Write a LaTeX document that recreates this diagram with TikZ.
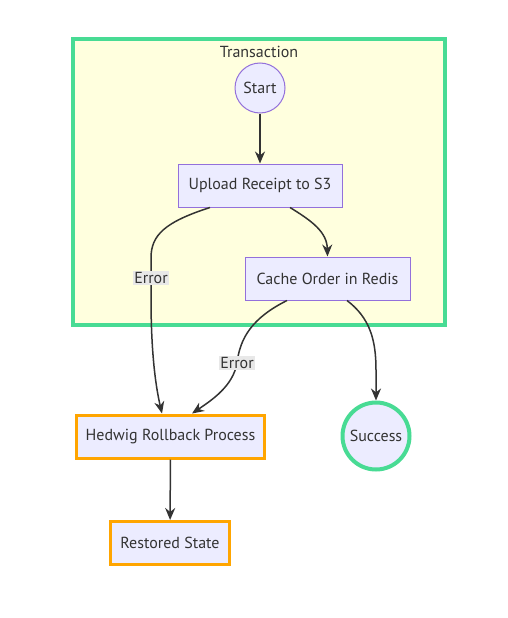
\documentclass[tikz,border=0pt]{standalone}
\usepackage{fontspec}
\setmainfont{PT Sans}
\usetikzlibrary{arrows.meta}
\definecolor{nodefill}{HTML}{ECECFF}
\definecolor{nodeline}{HTML}{9370DB}
\definecolor{clusterfill}{HTML}{FFFFDE}
\definecolor{greenline}{RGB}{72,219,148}
\definecolor{orangeline}{HTML}{FFA500}
\definecolor{edgeline}{HTML}{333333}
\definecolor{labelfill}{HTML}{E8E8E8}
\begin{document}
\begin{tikzpicture}[x=1pt, y=-1pt, font=\fontsize{16}{18}\selectfont, text=edgeline,
proc node/.style={rectangle,draw=nodeline,fill=nodefill,line width=1pt,minimum height=43pt,inner sep=0pt},
round node/.style={circle,draw=nodeline,fill=nodefill,line width=1pt,inner sep=0pt,minimum size=50pt},
fail node/.style={proc node,draw=orangeline,line width=3pt},
done node/.style={round node,draw=greenline,line width=4pt,minimum size=67pt},
flow/.style={draw=edgeline,line width=1.5pt,-{Stealth[length=12pt,width=10pt]}},
error label/.style={fill=labelfill,inner sep=1pt}]
\useasboundingbox (0,0) rectangle (508,618);
\fill[white] (0,0) rectangle (508,618);
% transaction cluster
\draw[greenline, line width=4pt, fill=clusterfill] (73,39) rectangle (445,325);
\node (title) at (259,52) {Transaction};
\begin{scope}
\node[round node] (start) at (260,88) {Start};
\node[proc node, minimum width=164pt] (upload) at (260,185.5) {Upload Receipt to S3};
\node[proc node, minimum width=165pt] (cache) at (327.5,278.5) {Cache Order in Redis};
\node[fail node, minimum width=188pt] (rollback) at (170.5,436.5) {Hedwig Rollback Process};
\node[done node] (success) at (376,436) {Success};
\node[fail node, minimum width=119pt] (restored) at (170,543) {Restored State};
\end{scope}
\begin{scope}
\draw[flow] (start) -- (upload);
\draw[flow] ([xshift=30pt]upload.south) .. controls (312,221) and (327,232) .. (cache.north);
\draw[flow] ([xshift=-50pt]upload.south) .. controls (165,222) and (151,235) .. (151,258)
  -- node[error label] {Error} (151,298) .. controls (151,360) and (157,392) .. ([xshift=-8.5pt]rollback.north);
\draw[flow] ([xshift=-40.5pt]cache.south) .. controls (252,318) and (240,338) .. (237,363)
  node[error label] {Error} .. controls (233,386) and (212,400) .. ([xshift=21.5pt]rollback.north);
\draw[flow] ([xshift=19.5pt]cache.south) .. controls (370,318) and (376,340) .. (376,370) -- (success.north);
\draw[flow] (rollback) -- (restored);
\end{scope}
\end{tikzpicture}
\end{document}
